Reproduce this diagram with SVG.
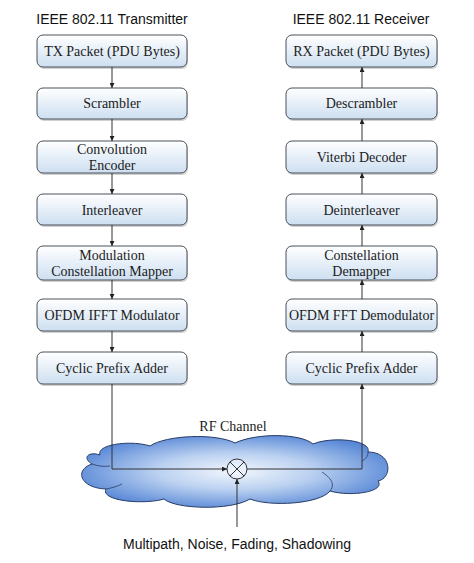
<svg xmlns="http://www.w3.org/2000/svg" width="474" height="563" viewBox="0 0 474 563">
<defs>
<linearGradient id="boxg" x1="0" y1="0" x2="0" y2="1">
<stop offset="0" stop-color="#ffffff"/>
<stop offset="1" stop-color="#cddff1"/>
</linearGradient>
<radialGradient id="cloudg" cx="0.5" cy="0.5" r="0.55">
<stop offset="0" stop-color="#f2f6fd"/>
<stop offset="0.45" stop-color="#bcd2f1"/>
<stop offset="1" stop-color="#5787d6"/>
</radialGradient>
<marker id="arr" viewBox="0 0 6 6" refX="6" refY="3" markerWidth="5" markerHeight="5" orient="auto" markerUnits="userSpaceOnUse">
<path d="M0,0 L6,3 L0,6 Z" fill="#222"/>
</marker>
</defs>
<style>
.box{fill:url(#boxg);stroke:#4b5058;stroke-width:1}
.sh{fill:#000;opacity:0.18}
.lbl{font-family:"Liberation Serif","Times New Roman",serif;font-size:14px;fill:#1c1c1c;text-anchor:middle}
.ttl{font-family:"Liberation Sans",Arial,sans-serif;font-size:14px;fill:#111;text-anchor:middle}
.con{fill:none;stroke:#333;stroke-width:1;marker-end:url(#arr)}
</style>
<rect width="474" height="563" fill="#ffffff"/>

<text class="ttl" x="112" y="24">IEEE 802.11 Transmitter</text>
<text class="ttl" x="361" y="24">IEEE 802.11 Receiver</text>

<g id="cloud">
<path d="M100,455 C96,444 132,440 150,446 C166,435 216,433 235,443 C256,433 300,433 313,444 C332,436 372,440 368,452 C392,452 393,478 378,481 C386,492 350,497 330,491 C320,504 270,507 250,499 C230,511 175,509 164,499 C144,505 100,501 106,489 C80,488 74,470 92,464 C82,458 88,451 100,455 Z" fill="url(#cloudg)" stroke="#273c66" stroke-width="1"/>
<path d="M92,464 C98,466 104,467 110,466" fill="none" stroke="#273c66" stroke-width="0.8"/>
<path d="M106,489 C112,488 118,486 122,484" fill="none" stroke="#273c66" stroke-width="0.8"/>
<path d="M330,491 C334,486 334,480 322,472" fill="none" stroke="#273c66" stroke-width="0.8"/>
<path d="M368,452 C368,456 366,459 362,461" fill="none" stroke="#273c66" stroke-width="0.8"/>
<text class="lbl" x="233" y="431">RF Channel</text>
</g>

<g id="mixer">
<circle cx="237" cy="469" r="10" fill="#eef3fb" fill-opacity="0.5" stroke="#333" stroke-width="1"/>
<path d="M230,462 L244,476 M244,462 L230,476" stroke="#333" stroke-width="1"/>
</g>

<g id="tx1"><rect class="sh" x="38" y="37" width="150" height="32" rx="6"/><rect class="box" x="37" y="35" width="150" height="32" rx="6"/><text class="lbl" x="112" y="56">TX Packet (PDU Bytes)</text></g>
<g id="tx2"><rect class="sh" x="38" y="90" width="150" height="31" rx="6"/><rect class="box" x="37" y="88" width="150" height="31" rx="6"/><text class="lbl" x="112" y="108">Scrambler</text></g>
<g id="tx3"><rect class="sh" x="38" y="143" width="150" height="32" rx="6"/><rect class="box" x="37" y="141" width="150" height="32" rx="6"/><text class="lbl" x="112" y="154">Convolution</text><text class="lbl" x="112" y="170">Encoder</text></g>
<g id="tx4"><rect class="sh" x="38" y="196" width="150" height="31" rx="6"/><rect class="box" x="37" y="194" width="150" height="31" rx="6"/><text class="lbl" x="112" y="215">Interleaver</text></g>
<g id="tx5"><rect class="sh" x="38" y="248" width="150" height="34" rx="6"/><rect class="box" x="37" y="246" width="150" height="34" rx="6"/><text class="lbl" x="112" y="260">Modulation</text><text class="lbl" x="112" y="276">Constellation Mapper</text></g>
<g id="tx6"><rect class="sh" x="38" y="301" width="150" height="32" rx="6"/><rect class="box" x="37" y="299" width="150" height="32" rx="6"/><text class="lbl" x="112" y="320">OFDM IFFT Modulator</text></g>
<g id="tx7"><rect class="sh" x="38" y="354" width="150" height="32" rx="6"/><rect class="box" x="37" y="352" width="150" height="32" rx="6"/><text class="lbl" x="112" y="373">Cyclic Prefix Adder</text></g>

<g id="rx1"><rect class="sh" x="287" y="37" width="151" height="32" rx="6"/><rect class="box" x="286" y="35" width="151" height="32" rx="6"/><text class="lbl" x="361.5" y="56">RX Packet (PDU Bytes)</text></g>
<g id="rx2"><rect class="sh" x="287" y="90" width="151" height="31" rx="6"/><rect class="box" x="286" y="88" width="151" height="31" rx="6"/><text class="lbl" x="361.5" y="108">Descrambler</text></g>
<g id="rx3"><rect class="sh" x="287" y="143" width="151" height="32" rx="6"/><rect class="box" x="286" y="141" width="151" height="32" rx="6"/><text class="lbl" x="361.5" y="162">Viterbi Decoder</text></g>
<g id="rx4"><rect class="sh" x="287" y="196" width="151" height="31" rx="6"/><rect class="box" x="286" y="194" width="151" height="31" rx="6"/><text class="lbl" x="361.5" y="215">Deinterleaver</text></g>
<g id="rx5"><rect class="sh" x="287" y="248" width="151" height="34" rx="6"/><rect class="box" x="286" y="246" width="151" height="34" rx="6"/><text class="lbl" x="361.5" y="260">Constellation</text><text class="lbl" x="361.5" y="276">Demapper</text></g>
<g id="rx6"><rect class="sh" x="287" y="301" width="151" height="32" rx="6"/><rect class="box" x="286" y="299" width="151" height="32" rx="6"/><text class="lbl" x="361.5" y="320">OFDM FFT Demodulator</text></g>
<g id="rx7"><rect class="sh" x="287" y="354" width="151" height="32" rx="6"/><rect class="box" x="286" y="352" width="151" height="32" rx="6"/><text class="lbl" x="361.5" y="373">Cyclic Prefix Adder</text></g>

<g id="connectors">
<path class="con" d="M112,67 L112,88"/>
<path class="con" d="M112,119 L112,141"/>
<path class="con" d="M112,173 L112,194"/>
<path class="con" d="M112,225 L112,246"/>
<path class="con" d="M112,280 L112,299"/>
<path class="con" d="M112,331 L112,352"/>
<path class="con" d="M112,384 L112,469 L227,469"/>
<path class="con" d="M247,469 L362,469 L362,384"/>
<path class="con" d="M362,352 L362,331"/>
<path class="con" d="M362,299 L362,280"/>
<path class="con" d="M362,246 L362,225"/>
<path class="con" d="M362,194 L362,173"/>
<path class="con" d="M362,141 L362,119"/>
<path class="con" d="M362,88 L362,67"/>
<path class="con" d="M237,527 L237,479"/>
</g>

<text class="ttl" x="237" y="549">Multipath, Noise, Fading, Shadowing</text>
</svg>
